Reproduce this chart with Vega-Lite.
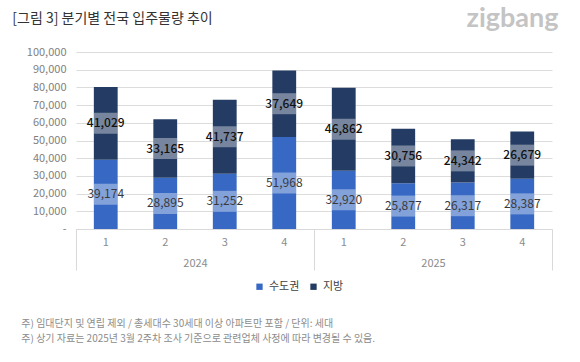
{
  "$schema": "https://vega.github.io/schema/vega-lite/v6.json",
  "background": "white",
  "padding": {"left": 12, "top": 5, "right": 10, "bottom": 10},
  "title": {"text": "[그림 3] 분기별 전국 입주물량 추이", "anchor": "start", "font": "Noto Sans CJK KR", "fontSize": 14, "fontWeight": "normal", "color": "#333333", "dx": -9, "offset": -21},
  "vconcat": [
    {
      "title": {"text": "zigbang", "anchor": "end", "font": "Lato", "fontSize": 27, "fontWeight": "bold", "color": "#c4c4c4", "dx": 6, "offset": 13},
      "vconcat": [
        {
          "title": {"text": ["주) 임대단지 및 연립 제외 / 총세대수 30세대 이상 아파트만 포함 / 단위: 세대", "주) 상기 자료는 2025년 3월 2주차 조사 기준으로 관련업체 사정에 따라 변경될 수 있음."], "orient": "bottom", "anchor": "start", "font": "Noto Sans CJK KR", "fontSize": 10, "fontWeight": "normal", "color": "#8c8c8c", "lineHeight": 15, "dx": -5, "offset": 48},
          "width": 476,
          "height": 177,
          "data": {"values": [
            {"year": "2024", "quarter": "1", "key": "2024-1", "region": "수도권", "value": 39174},
            {"year": "2024", "quarter": "1", "key": "2024-1", "region": "지방", "value": 41029},
            {"year": "2024", "quarter": "2", "key": "2024-2", "region": "수도권", "value": 28895},
            {"year": "2024", "quarter": "2", "key": "2024-2", "region": "지방", "value": 33165},
            {"year": "2024", "quarter": "3", "key": "2024-3", "region": "수도권", "value": 31252},
            {"year": "2024", "quarter": "3", "key": "2024-3", "region": "지방", "value": 41737},
            {"year": "2024", "quarter": "4", "key": "2024-4", "region": "수도권", "value": 51968},
            {"year": "2024", "quarter": "4", "key": "2024-4", "region": "지방", "value": 37649},
            {"year": "2025", "quarter": "1", "key": "2025-1", "region": "수도권", "value": 32920},
            {"year": "2025", "quarter": "1", "key": "2025-1", "region": "지방", "value": 46862},
            {"year": "2025", "quarter": "2", "key": "2025-2", "region": "수도권", "value": 25877},
            {"year": "2025", "quarter": "2", "key": "2025-2", "region": "지방", "value": 30756},
            {"year": "2025", "quarter": "3", "key": "2025-3", "region": "수도권", "value": 26317},
            {"year": "2025", "quarter": "3", "key": "2025-3", "region": "지방", "value": 24342},
            {"year": "2025", "quarter": "4", "key": "2025-4", "region": "수도권", "value": 28387},
            {"year": "2025", "quarter": "4", "key": "2025-4", "region": "지방", "value": 26679}
          ]},
          "layer": [
            {
              "encoding": {
                "x": {"field": "key", "type": "nominal", "sort": null,
                  "scale": {"paddingInner": 0.6, "paddingOuter": 0.3},
                  "axis": {"title": null, "orient": "bottom", "labelExpr": "split(datum.value, '-')[1]", "labelAngle": 0, "ticks": false, "labelPadding": 7, "labelFont": "Noto Sans CJK KR", "labelFontSize": 11, "labelColor": "#8c8c8c", "domainColor": "#d9d9d9", "grid": false}},
                "y": {"field": "value", "type": "quantitative", "stack": "zero",
                  "scale": {"domain": [0, 100000], "nice": false},
                  "axis": {"title": null, "values": [0, 10000, 20000, 30000, 40000, 50000, 60000, 70000, 80000, 90000, 100000], "labelExpr": "datum.value == 0 ? '-' : format(datum.value, ',d')", "ticks": false, "domain": false, "labelPadding": 10, "labelFont": "Noto Sans CJK KR", "labelFontSize": 11, "labelColor": "#7f7f7f", "gridColor": "#dcdcdc"}},
                "order": {"field": "region", "type": "nominal", "sort": "ascending"}
              },
              "layer": [
                {
                  "mark": {"type": "bar"},
                  "encoding": {
                    "color": {"field": "region", "type": "nominal",
                      "scale": {"domain": ["수도권", "지방"], "range": ["#3769c4", "#243c63"]},
                      "legend": {"title": null, "orient": "none", "legendX": 178, "legendY": 229, "direction": "horizontal", "symbolType": "square", "symbolSize": 40, "symbolStrokeWidth": 0, "labelFont": "Noto Sans CJK KR", "labelFontSize": 11, "labelColor": "#404040", "columnPadding": 8}}
                  }
                },
                {
                  "mark": {"type": "tick", "color": "white", "opacity": 0.38, "thickness": 21, "size": 23.8},
                  "encoding": {
                    "detail": {"field": "region"},
                    "y": {"field": "value", "type": "quantitative", "stack": "zero", "bandPosition": 0.5}
                  }
                },
                {
                  "mark": {"type": "text", "font": "Noto Sans CJK KR", "fontSize": 12, "fontWeight": "normal", "color": "#3a3a3a"},
                  "encoding": {
                    "detail": {"field": "region"},
                    "y": {"field": "value", "type": "quantitative", "stack": "zero", "bandPosition": 0.5},
                    "text": {"field": "value", "type": "quantitative", "format": ",d"},
                    "opacity": {"condition": {"test": "datum.region == '수도권'", "value": 1}, "value": 0}
                  }
                },
                {
                  "mark": {"type": "text", "font": "Noto Sans CJK KR", "fontSize": 12, "fontWeight": 500, "color": "#111111"},
                  "encoding": {
                    "detail": {"field": "region"},
                    "y": {"field": "value", "type": "quantitative", "stack": "zero", "bandPosition": 0.5},
                    "text": {"field": "value", "type": "quantitative", "format": ",d"},
                    "opacity": {"condition": {"test": "datum.region == '지방'", "value": 1}, "value": 0}
                  }
                }
              ]
            },
            {
              "mark": {"type": "tick", "opacity": 0},
              "encoding": {
                "x": {"field": "year", "type": "nominal",
                  "scale": {"paddingInner": 0, "paddingOuter": 0},
                  "axis": {"title": null, "orient": "bottom", "labelAngle": 0, "domain": false, "ticks": true, "tickBand": "extent", "tickSize": 41, "tickColor": "#d9d9d9", "labelPadding": -13, "labelFont": "Noto Sans CJK KR", "labelFontSize": 11, "labelColor": "#8c8c8c", "grid": false}}
              }
            }
          ],
          "resolve": {"scale": {"x": "independent"}, "axis": {"x": "independent"}}
        }
      ]
    }
  ],
  "config": {"view": {"stroke": null}, "concat": {"spacing": 0}}
}
